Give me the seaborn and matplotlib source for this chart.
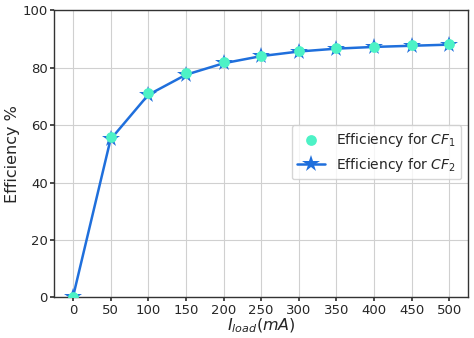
import matplotlib
matplotlib.use("Agg")
import matplotlib.pyplot as plt
import seaborn as sns
import pandas as pd

load_ma = [0, 50, 100, 150, 200, 250, 300, 350, 400, 450, 500]
eff_cf1 = [0, 56, 71.2, 78, 82, 84.2, 85.8, 86.8, 87.3, 87.8, 88.2]
eff_cf2 = [0, 55, 70.5, 77.5, 81.5, 84, 85.6, 86.6, 87.2, 87.6, 88.0]
xticks = [0, 50, 100, 150, 200, 250, 300, 350, 400, 450, 500]
yticks = [0, 20, 40, 60, 80, 100]

sns.set_theme(style="whitegrid")
plt.rcParams['font.family'] = ['DejaVu Sans']

df = pd.DataFrame({"load": load_ma, "cf1": eff_cf1, "cf2": eff_cf2})

fig, ax = plt.subplots(figsize=(4.74, 3.38), dpi=100)
sns.lineplot(data=df, x="load", y="cf2", ax=ax, color="#1f6fdc", linewidth=1.8,
             marker="*", markersize=13, markeredgewidth=0, label="Efficiency for $CF_2$", zorder=2)
sns.scatterplot(data=df, x="load", y="cf1", ax=ax, color="#4df2c6", s=60, linewidth=0,
                label="Efficiency for $CF_1$", zorder=3)

ax.set_xlim(-25, 525)
ax.set_ylim(0, 100)
ax.set_xticks(xticks)
ax.set_yticks(yticks)
ax.tick_params(labelsize=9.5, length=3, pad=1.5, color="#333333", bottom=True, left=True)
ax.set_xlabel("$I_{load}(mA)$", fontsize=11.5, labelpad=0)
ax.set_ylabel("Efficiency %", fontsize=11.5, labelpad=2)
for s in ax.spines.values():
    s.set_color("#333333")
    s.set_linewidth(1.0)
ax.grid(color="#d0d0d0", linewidth=0.8)

h, l = ax.get_legend_handles_labels()
order = [l.index("Efficiency for $CF_1$"), l.index("Efficiency for $CF_2$")]
ax.legend([h[i] for i in order], [l[i] for i in order], loc="center right",
          bbox_to_anchor=(1.0, 0.505), fontsize=10, frameon=True)

fig.subplots_adjust(left=0.114, right=0.988, top=0.97, bottom=0.12)
fig.savefig("out.png", dpi=100)
